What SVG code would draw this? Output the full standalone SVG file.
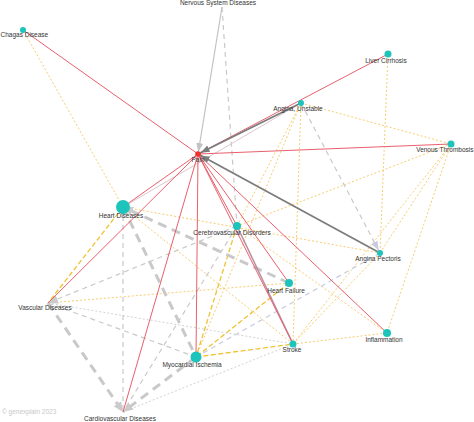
<svg xmlns="http://www.w3.org/2000/svg" width="474" height="422" viewBox="0 0 474 422">
<style>
.bg{fill:#ffffff}
.r{stroke:#e8606c;stroke-width:1;fill:none}
.dg{stroke:#7c7c7c;stroke-width:1.8;fill:none}
.lg{stroke:#c2c2c2;stroke-width:1.2;fill:none}
.lp{stroke:#dcc6cf;stroke-width:1;fill:none}
.mv{stroke:#b8909f;stroke-width:1.6;fill:none}
.td{stroke:#c9c9c9;stroke-width:3;stroke-dasharray:9 6;fill:none}
.gd{stroke:#c9c9c9;stroke-width:1.2;stroke-dasharray:5 4;fill:none}
.gt{stroke:#d3d3d3;stroke-width:1;stroke-dasharray:2 2;fill:none}
.lv{stroke:#c7cbe2;stroke-width:1.2;stroke-dasharray:5 4;fill:none}
.yd{stroke:#f8cd72;stroke-width:1;stroke-dasharray:2 2;fill:none}
.gl{stroke:#f0c233;stroke-width:1.3;stroke-dasharray:5 2.5;fill:none}
.n{fill:#1cc4bb}
.p{fill:#f2302e}
text{font-family:"Liberation Sans",Arial,sans-serif;font-size:6.5px;fill:#333;text-anchor:middle}
.st{text-anchor:start}
.en{text-anchor:end}
.cp{fill:#c8c8c8;text-anchor:start;font-size:6.5px}
</style>
<defs>
<marker id="aDark" markerUnits="userSpaceOnUse" markerWidth="12" markerHeight="8" refX="12" refY="3.5" orient="auto"><path d="M0,0 L9,3.5 L0,7 z" fill="#7c7c7c"/></marker>
<marker id="aLg" markerUnits="userSpaceOnUse" markerWidth="12" markerHeight="8" refX="11" refY="3.5" orient="auto"><path d="M0,0 L9,3.5 L0,7 z" fill="#c2c2c2"/></marker>
<marker id="aGray" markerUnits="userSpaceOnUse" markerWidth="14" markerHeight="10" refX="10" refY="4.5" orient="auto"><path d="M0,0 L10,4.5 L0,9 z" fill="#cbcbcb"/></marker>
<marker id="aLv" markerUnits="userSpaceOnUse" markerWidth="12" markerHeight="8" refX="12" refY="3.5" orient="auto"><path d="M0,0 L9,3.5 L0,7 z" fill="#c7cbe2"/></marker>
</defs>
<rect class="bg" x="0" y="0" width="474" height="422"/>
<g id="connectors">
<line class="yd" x1="23" y1="30" x2="123" y2="207"/>
<line class="yd" x1="388" y1="54" x2="380" y2="253"/>
<line class="yd" x1="301" y1="103" x2="451" y2="144"/>
<line class="yd" x1="301" y1="103" x2="237" y2="226"/>
<line class="yd" x1="301" y1="103" x2="196" y2="357"/>
<line class="yd" x1="301" y1="103" x2="293" y2="344"/>
<line class="yd" x1="451" y1="144" x2="237" y2="226"/>
<line class="yd" x1="451" y1="144" x2="380" y2="253"/>
<line class="yd" x1="451" y1="144" x2="293" y2="344"/>
<line class="yd" x1="451" y1="144" x2="387" y2="333"/>
<line class="yd" x1="123" y1="207" x2="380" y2="253"/>
<line class="yd" x1="123" y1="207" x2="293" y2="344"/>
<line class="yd" x1="48" y1="303" x2="289" y2="283"/>
<line class="yd" x1="237" y1="226" x2="387" y2="333"/>
<line class="yd" x1="293" y1="344" x2="387" y2="333"/>
<line class="yd" x1="293" y1="344" x2="380" y2="253"/>
<line class="gl" x1="123" y1="207" x2="48" y2="303"/>
<line class="gl" x1="237" y1="226" x2="196" y2="357"/>
<line class="gl" x1="196" y1="357" x2="293" y2="344"/>
<line class="gl" x1="289" y1="283" x2="196" y2="357"/>
<line class="gt" x1="48" y1="303" x2="293" y2="344"/>
<line class="gt" x1="123" y1="412" x2="293" y2="344"/>
<line class="gd" x1="222" y1="7" x2="237" y2="226"/>
<line class="gd" x1="123" y1="207" x2="123" y2="412"/>
<line class="gd" x1="237" y1="226" x2="48" y2="303" marker-end="url(#aGray)"/>
<line class="gd" x1="237" y1="226" x2="123" y2="412"/>
<line class="gd" x1="48" y1="303" x2="196" y2="357"/>
<line class="gd" x1="301" y1="103" x2="380" y2="253" marker-end="url(#aLv)"/>
<line class="lv" x1="380" y1="253" x2="196" y2="357"/>
<line class="td" x1="289" y1="283" x2="123" y2="207" marker-end="url(#aGray)"/>
<line class="td" x1="123" y1="207" x2="196" y2="357"/>
<line class="td" x1="48" y1="303" x2="123" y2="412" marker-end="url(#aGray)"/>
<line class="td" x1="196" y1="357" x2="123" y2="412" marker-end="url(#aGray)"/>
<line class="lp" x1="123" y1="207" x2="301" y2="103"/>
<line class="lg" x1="222" y1="7" x2="198" y2="154" marker-end="url(#aLg)"/>
<line class="mv" x1="237" y1="226" x2="293" y2="344"/>
<line class="r" x1="198" y1="154" x2="23" y2="30"/>
<line class="r" x1="198" y1="154" x2="388" y2="54"/>
<line class="r" x1="198" y1="154" x2="451" y2="144"/>
<line class="r" x1="198" y1="154" x2="123" y2="207"/>
<line class="r" x1="198" y1="154" x2="48" y2="303"/>
<line class="r" x1="198" y1="154" x2="123" y2="412"/>
<line class="r" x1="198" y1="154" x2="196" y2="357"/>
<line class="r" x1="198" y1="154" x2="237" y2="226"/>
<line class="r" x1="198" y1="154" x2="289" y2="283"/>
<line class="r" x1="198" y1="154" x2="387" y2="333"/>
<line class="r" x1="198" y1="154" x2="293" y2="344"/>
<line class="dg" x1="301" y1="103" x2="198" y2="154" marker-end="url(#aDark)"/>
<line class="dg" x1="380" y1="253" x2="198" y2="154" marker-end="url(#aDark)"/>
</g>
<g id="n-nervous"><text x="218" y="5">Nervous System Diseases</text></g>
<g id="n-chagas"><circle class="n" cx="23" cy="30" r="3"/><text class="st" x="0.5" y="37">Chagas Disease</text></g>
<g id="n-liver"><circle class="n" cx="388" cy="54" r="3.5"/><text x="386" y="63">Liver Cirrhosis</text></g>
<g id="n-angina-unstable"><circle class="n" cx="301" cy="103" r="3"/><text x="298" y="111">Angina, Unstable</text></g>
<g id="n-venous"><circle class="n" cx="451" cy="144" r="3.5"/><text class="en" x="473.5" y="152">Venous Thrombosis</text></g>
<g id="n-pain"><circle class="p" cx="198" cy="154" r="2.8"/><text x="198" y="162">Pain</text></g>
<g id="n-heart-diseases"><circle class="n" cx="123" cy="207" r="7"/><text x="121" y="218">Heart Diseases</text></g>
<g id="n-cerebro"><circle class="n" cx="237" cy="226" r="4"/><text x="232" y="235">Cerebrovascular Disorders</text></g>
<g id="n-angina-pectoris"><circle class="n" cx="380" cy="253" r="3"/><text x="378" y="261">Angina Pectoris</text></g>
<g id="n-heart-failure"><circle class="n" cx="289" cy="283" r="4"/><text x="286" y="293">Heart Failure</text></g>
<g id="n-vascular"><text x="45" y="310">Vascular Diseases</text></g>
<g id="n-inflammation"><circle class="n" cx="387" cy="333" r="4"/><text x="384" y="342">Inflammation</text></g>
<g id="n-stroke"><circle class="n" cx="293" cy="344" r="3.5"/><text x="292" y="352">Stroke</text></g>
<g id="n-myocardial"><circle class="n" cx="196" cy="357" r="5.5"/><text x="192" y="367">Myocardial Ischemia</text></g>
<g id="n-cardiovascular"><text x="120" y="421">Cardiovascular Diseases</text></g>
<text class="cp" x="2" y="414">© genexplain 2023</text>
</svg>
